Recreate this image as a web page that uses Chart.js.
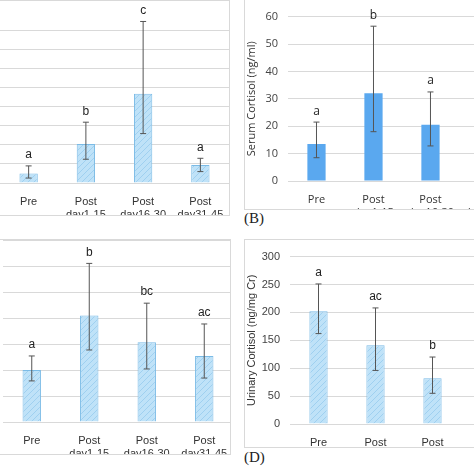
<!DOCTYPE html>
<html><head><meta charset="utf-8">
<script src="https://cdn.jsdelivr.net/npm/chart.js@4"></script>
<style>
body{margin:0;background:#fff;width:474px;height:474px;position:relative;overflow:hidden;font-family:"Liberation Serif",serif}
.panel{position:absolute;overflow:hidden;background:#fff;box-sizing:border-box}
.panel canvas{position:absolute;top:0}
.lab{position:absolute;font-size:15px;color:#222}
</style></head><body>
<div class="panel" id="pA" style="left:0;top:0;width:230px;height:216px;border-right:1px solid #d9d9d9;border-bottom:1px solid #d9d9d9"><canvas id="cA"></canvas></div>
<div class="panel" id="pB" style="left:244px;top:0;width:230px;height:210px;border-left:1px solid #d9d9d9;border-bottom:1px solid #d9d9d9"><canvas id="cB"></canvas></div>
<div class="panel" id="pC" style="left:0;top:239px;width:231px;height:216px;border-right:1px solid #d9d9d9;border-bottom:1px solid #d9d9d9;border-top:1px solid #d9d9d9"><canvas id="cC"></canvas></div>
<div class="panel" id="pD" style="left:244px;top:239px;width:230px;height:209px;border-left:1px solid #d9d9d9;border-bottom:1px solid #d9d9d9;border-top:1px solid #d9d9d9"><canvas id="cD"></canvas></div>
<div class="lab" style="left:244px;top:210px">(B)</div>
<div class="lab" style="left:244px;top:449px">(D)</div>
<script>
// categorías comunes
const categorias = [["Pre"], ["Post", "day1-15"], ["Post", "day16-30"], ["Post", "day31-45"]];

// Panel A
const valoresA = [0.5, 2.05, 4.7, 0.95];
const errAltoA = [0.9, 3.2, 8.5, 1.3];
const errBajoA = [0.26, 1.25, 2.6, 0.6];
const letrasA = ["a", "b", "c", "a"];

// Panel B - Serum Cortisol
const valoresB = [13.5, 32, 20.5, 15];
const errAltoB = [21.5, 56.5, 32.5, 22];
const errBajoB = [8.5, 18, 12.8, 10];
const letrasB = ["a", "b", "a", "a"];

// Panel C
const valoresC = [2.0, 4.1, 3.07, 2.54];
const errAltoC = [2.54, 6.1, 4.57, 3.77];
const errBajoC = [1.58, 2.77, 2.04, 1.69];
const letrasC = ["a", "b", "bc", "ac"];

// Panel D - Urinary Cortisol
const valoresD = [202, 141, 82, 75];
const errAltoD = [251, 208, 120, 110];
const errBajoD = [162, 96, 55, 50];
const letrasD = ["a", "ac", "b", "b"];

function rayado() {
  const c = document.createElement('canvas');
  c.width = 6; c.height = 6;
  const g = c.getContext('2d');
  g.fillStyle = '#bfe2f8'; g.fillRect(0, 0, 6, 6);
  g.strokeStyle = '#9fd0f0'; g.lineWidth = 1;
  g.beginPath(); g.moveTo(0, 6); g.lineTo(6, 0); g.moveTo(-1, 1); g.lineTo(1, -1); g.moveTo(5, 7); g.lineTo(7, 5); g.stroke();
  return g.createPattern(c, 'repeat');
}

const pluginErrores = {
  id: 'errores',
  afterDatasetsDraw(chart, args, o) {
    const ctx = chart.ctx, x = chart.scales.x, y = chart.scales.y;
    ctx.save();
    ctx.strokeStyle = '#555'; ctx.lineWidth = 1;
    o.alto.forEach((h, i) => {
      const px = x.getPixelForValue(i), pa = y.getPixelForValue(h), pb = y.getPixelForValue(o.bajo[i]);
      ctx.beginPath();
      ctx.moveTo(px, pa); ctx.lineTo(px, pb);
      ctx.moveTo(px - 3, pa); ctx.lineTo(px + 3, pa);
      ctx.moveTo(px - 3, pb); ctx.lineTo(px + 3, pb);
      ctx.stroke();
      ctx.fillStyle = '#222'; ctx.font = o.fuenteLetra; ctx.textAlign = 'center'; ctx.textBaseline = 'bottom';
      ctx.fillText(o.letras[i], px, pa - 5);
    });
    ctx.restore();
  }
};

function panel(id, w, base, cfg) {
  const altoX = 44, h = base + altoX;
  const cv = document.getElementById(id);
  cv.style.width = w + 'px'; cv.style.height = h + 'px';
  cv.width = w; cv.height = h;
  cv.style.left = (cfg.izq || 0) + 'px';
  return new Chart(cv, {
    type: 'bar',
    data: { labels: categorias, datasets: [{ data: cfg.valores, backgroundColor: cfg.relleno, borderColor: cfg.borde, borderWidth: cfg.bw, barPercentage: 0.32, categoryPercentage: 1 }] },
    plugins: [pluginErrores],
    options: {
      responsive: false, animation: false, devicePixelRatio: 1,
      layout: { padding: { top: cfg.arriba, right: 0, left: 0, bottom: 0 } },
      plugins: { legend: { display: false }, tooltip: { enabled: false },
        errores: { alto: cfg.alto, bajo: cfg.bajo, letras: cfg.letras, fuenteLetra: cfg.fuenteLetra } },
      scales: {
        x: { grid: { display: false }, border: { color: '#d9d9d9' },
          ticks: { color: '#333', font: { family: cfg.fuente, size: 11, lineHeight: 1.15 }, padding: 5, maxRotation: 0, autoSkip: false },
          afterFit(s) { s.height = altoX; } },
        y: { min: 0, max: cfg.max, display: cfg.ejeY ? true : 'auto',
          grid: { color: '#d9d9d9', drawTicks: false }, border: { display: false },
          ticks: { stepSize: cfg.paso, color: '#444', padding: 10, display: !!cfg.ejeY, font: { family: cfg.fuente, size: 11 } },
          title: { display: !!cfg.titulo, text: cfg.titulo, color: '#333', font: { family: cfg.fuente, size: 11 }, padding: 0 },
          afterFit(s) { s.width = cfg.anchoY; } }
      }
    }
  });
}

const patron = rayado();
const arial = '"Liberation Sans", Arial, sans-serif';
const calibri = '"Open Sans", "Noto Sans", sans-serif';

panel('cA', 229, 183, { valores: valoresA, alto: errAltoA, bajo: errBajoA, letras: letrasA, max: 9.63, paso: 1,
  relleno: patron, borde: '#7bbbe6', bw: 1, arriba: 0, anchoY: 0, fuente: arial, fuenteLetra: '12px ' + arial });
panel('cB', 271, 181, { valores: valoresB, alto: errAltoB, bajo: errBajoB, letras: letrasB, max: 60, paso: 10, ejeY: true,
  titulo: 'Serum Cortisol (ng/ml)', relleno: '#5aa8ef', borde: '#5aa8ef', bw: 0, arriba: 12, anchoY: 43, fuente: calibri, fuenteLetra: '12px ' + calibri });
panel('cC', 230, 182, { valores: valoresC, alto: errAltoC, bajo: errBajoC, letras: letrasC, max: 7, paso: 1, izq: 3,
  relleno: patron, borde: '#7bbbe6', bw: 1, arriba: 0, anchoY: 0, fuente: arial, fuenteLetra: '12px ' + arial });
panel('cD', 273, 184, { valores: valoresD, alto: errAltoD, bajo: errBajoD, letras: letrasD, max: 300, paso: 50, ejeY: true,
  titulo: 'Urinary Cortisol (ng/mg Cr)', relleno: patron, borde: '#7bbbe6', bw: 1, arriba: 16, anchoY: 45, fuente: arial, fuenteLetra: '12px ' + arial });
</script></body></html>
